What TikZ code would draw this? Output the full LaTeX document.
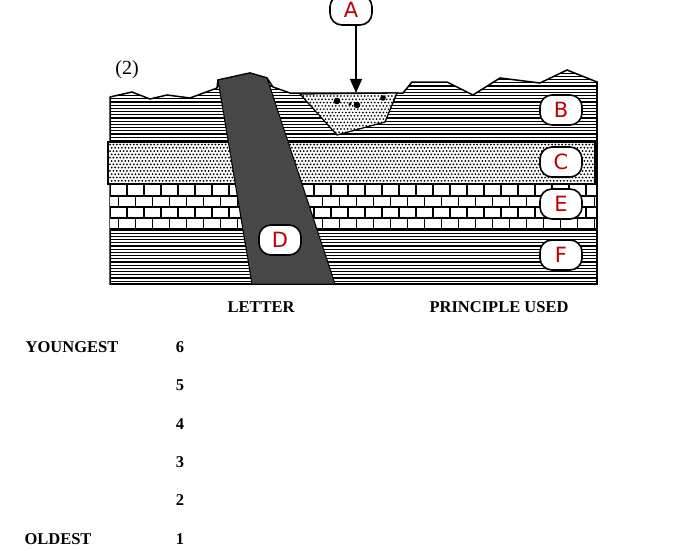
\documentclass[tikz,border=0pt]{standalone}
\usetikzlibrary{arrows.meta}
\usepackage{fontspec}
\setmainfont{Liberation Serif}
\newfontfamily\lab{DejaVu Sans}
\begin{document}
\begin{tikzpicture}[x=1pt,y=-1pt,
  tag/.style={draw,line width=1.6pt,fill=white,rounded corners=12pt,minimum width=42pt,minimum height=30pt,font=\lab\fontsize{21}{21}\selectfont,text=red!75!black},
  txt/.style={font=\bfseries\fontsize{16.5}{17}\selectfont,anchor=base}]
\useasboundingbox (0,0) rectangle (696,551);
\def\surf{(110,97) -- (132,92) -- (150,99) -- (167,95) -- (190,98) -- (217,88) -- (218,80) -- (250,73) -- (267,78) -- (273,87) -- (290,93) -- (403,93) -- (412,82) -- (447,82) -- (473,95) -- (500,78) -- (540,83) -- (567,70) -- (597,82) -- (597,284) -- (110,284) -- cycle}
\begin{scope}
\clip \surf;
\foreach \y in {70,73.2,...,286} \draw[line width=1.3pt] (105,\y) -- (600,\y);
\end{scope}
\draw[line width=1.5pt] \surf;
% layer C
\draw[line width=1.4pt,fill=white] (108,142) rectangle (595,184);
\begin{scope}
\clip (109,143) rectangle (594,183);
\foreach \j in {0,...,12}{
 \pgfmathsetmacro{\yy}{144.5+3.3*\j}
 \pgfmathsetmacro{\off}{mod(\j,2)*1.7}
 \foreach \i in {0,...,145}{\fill (110+\off+3.4*\i,\yy) circle (1pt);}}
\end{scope}
% layer E bricks
\fill[white] (110,185) rectangle (597,228);
\begin{scope}
\clip (110,185) rectangle (597,228);
\foreach \k in {0,...,3}{
 \pgfmathsetmacro{\ya}{185+11*\k}
 \pgfmathsetmacro{\yb}{\ya+11}
 \draw[line width=1.3pt] (110,\yb) -- (597,\yb);
 \pgfmathsetmacro{\off}{mod(\k,2)*8.5}
 \foreach \i in {0,...,29}{\draw[line width=1.3pt] (110+\off+17*\i,\ya) -- (110+\off+17*\i,\yb);}}
\end{scope}
\draw[line width=1.5pt] (597,82) -- (597,284) -- (110,284);
% dike D
\fill[black!72,draw=black,line width=1pt] (218,80) -- (250,73) -- (267,78) -- (335,284) -- (252,284) -- cycle;
% channel A
\fill[white,draw=black,line width=1.3pt] (300,94) -- (397,93) -- (385,122) -- (337,135) -- cycle;
\begin{scope}
\clip (300,94) -- (397,93) -- (385,122) -- (337,135) -- cycle;
\foreach \j in {0,...,13}{
 \pgfmathsetmacro{\yy}{96+3.3*\j}
 \pgfmathsetmacro{\off}{mod(\j,2)*1.7}
 \foreach \i in {0,...,30}{\fill (300+\off+3.4*\i,\yy) circle (0.95pt);}}
\end{scope}
\fill (337,101) circle (3.3pt) (357,105) circle (3.3pt) (383,98) circle (2.8pt) (350,104) circle (1.6pt);
% labels
\node[tag] (A) at (351,10) {A};
\coordinate (At) at (356,93);
\draw[line width=1.2pt,-{Triangle[length=14pt,width=12pt]}] (356,26) -- (At);
\node[tag] (B) at (561,110) {B};
\node[tag] (C) at (561,162) {C};
\node[tag] (E) at (561,204) {E};
\node[tag] (F) at (561,255) {F};
\node[tag] (D) at (280,240) {D};
\node[font=\fontsize{20}{20}\selectfont] (n2) at (127,70) {(2)};
% table text
\node[txt] (t1) at (261,312) {LETTER};
\node[txt] (t2) at (499,312) {PRINCIPLE USED};
\node[txt] (y) at (72,352) {YOUNGEST};
\node[txt] (o) at (58,544) {OLDEST};
\foreach \n/\yy in {6/352,5/390,4/429,3/467,2/505,1/544} \node[txt] (r\n) at (180,\yy) {\n};
\end{tikzpicture}
\end{document}
